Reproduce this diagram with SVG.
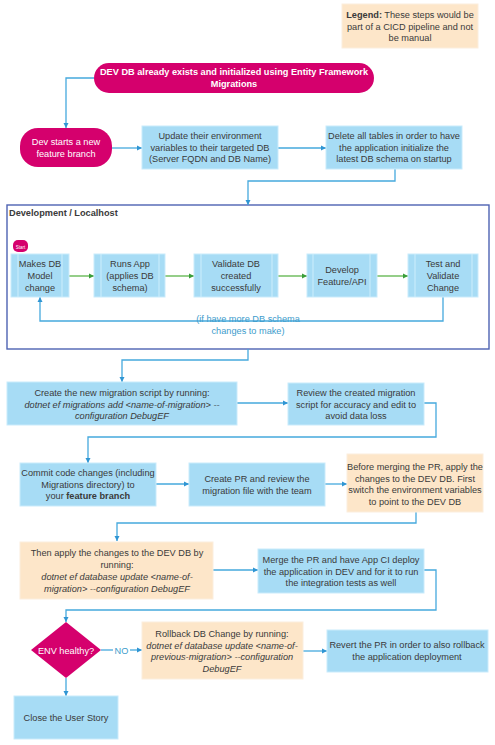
<svg xmlns="http://www.w3.org/2000/svg" width="495" height="745" viewBox="0 0 495 745">
<defs>
<style>
text{font-family:"Liberation Sans",Arial,sans-serif;font-size:9.2px;fill:#3a3a3a;text-anchor:middle}
.w{fill:#ffffff}
.b{font-weight:bold}
.i{font-style:italic}
.mag{fill:#d5006d}
.blue{fill:#a7dcf5;stroke:#c9ebfb;stroke-width:1}
.peach{fill:#fde6c9;stroke:#fbeedd;stroke-width:1}
.bar{stroke:#cdeefc;stroke-width:1;fill:none}
.c{fill:none;stroke:#45a9dd;stroke-width:1.3;marker-end:url(#ab)}
.cn{fill:none;stroke:#45a9dd;stroke-width:1.3}
.g{fill:none;stroke:#5bb34a;stroke-width:1.3;marker-end:url(#ag)}
.lbl{fill:#3d9ccc}
</style>
<marker id="ab" markerWidth="6" markerHeight="6" refX="5" refY="3" orient="auto" markerUnits="userSpaceOnUse"><path d="M0,0.5 L5,3 L0,5.5 Z" fill="#2f95d3"/></marker>
<marker id="ag" markerWidth="6" markerHeight="6" refX="5" refY="3" orient="auto" markerUnits="userSpaceOnUse"><path d="M0,0.5 L5,3 L0,5.5 Z" fill="#3a9e3a"/></marker>
</defs>
<rect width="495" height="745" fill="#ffffff"/>

<g id="legend">
<rect x="342" y="4" width="136" height="44" class="peach"/>
<text x="410" y="18"><tspan class="b">Legend:</tspan> These steps would be</text>
<text x="410" y="29.5">part of a CICD pipeline and not</text>
<text x="410" y="41">be manual</text>
</g>

<g id="container">
<rect x="7" y="205" width="482" height="144" fill="none" stroke="#4e63b3" stroke-width="1.4"/>
<text x="9" y="216" class="b" style="text-anchor:start">Development / Localhost</text>
</g>

<g id="connectors">
<path class="c" d="M94,78 H66 V128"/>
<path class="c" d="M112,148 H142"/>
<path class="c" d="M278,148 H326"/>
<path class="c" d="M395,169 V181 H248 V205"/>
<path class="g" d="M69,276 H94"/>
<path class="g" d="M165,276 H194"/>
<path class="g" d="M278,276 H307"/>
<path class="g" d="M377,276 H408"/>
<path class="c" d="M443,297 V321 H40 V297"/>
<path class="c" d="M248,349 V360 H122 V382"/>
<path class="c" d="M237,403 H288"/>
<path class="c" d="M424,403 H436 V437 H88 V463"/>
<path class="c" d="M156,484 H189"/>
<path class="c" d="M325,484 H347"/>
<path class="c" d="M416,512 V523 H117 V541"/>
<path class="c" d="M213,570 H258"/>
<path class="c" d="M424,570 H436 V610 H66 V622"/>
<path class="cn" d="M101,650 H113"/>
<path class="c" d="M130,650 H142"/>
<text x="121.5" y="653.5" class="lbl">NO</text>
<path class="c" d="M303,651 H327"/>
<path class="c" d="M66,678 V696"/>
<text x="248" y="322" class="lbl">(if have more DB schema</text>
<text x="248" y="334" class="lbl">changes to make)</text>
</g>

<g id="n-devdb">
<rect x="94" y="63" width="280" height="30" rx="15" class="mag"/>
<text x="234" y="75" class="w b">DEV DB already exists and initialized using Entity Framework</text>
<text x="234" y="87" class="w b">Migrations</text>
</g>

<g id="n-devstarts">
<rect x="20" y="128" width="92" height="39" rx="18" class="mag"/>
<text x="66" y="145" class="w">Dev starts a new</text>
<text x="66" y="157" class="w">feature branch</text>
</g>

<g id="n-update">
<rect x="142" y="126" width="136" height="43" class="blue"/>
<text x="210" y="139">Update their environment</text>
<text x="210" y="151">variables to their targeted DB</text>
<text x="210" y="162">(Server FQDN and DB Name)</text>
</g>

<g id="n-delete">
<rect x="326" y="126" width="136" height="43" class="blue"/>
<text x="394" y="139">Delete all tables in order to have</text>
<text x="394" y="151">the application initialize the</text>
<text x="394" y="162">latest DB schema on startup</text>
</g>

<g id="n-start">
<rect x="13" y="240" width="15" height="12" rx="5" class="mag"/>
<text x="20.5" y="248.5" class="w" style="font-size:4.5px">Start</text>
</g>

<g id="n-makes">
<rect x="11" y="254" width="58" height="43" class="blue"/>
<path class="bar" d="M18,254 V297 M62,254 V297"/>
<text x="40" y="267">Makes DB</text>
<text x="40" y="279">Model</text>
<text x="40" y="291">change</text>
</g>

<g id="n-runs">
<rect x="94" y="254" width="71" height="43" class="blue"/>
<path class="bar" d="M101,254 V297 M159,254 V297"/>
<text x="130" y="267">Runs App</text>
<text x="130" y="279">(applies DB</text>
<text x="130" y="291">schema)</text>
</g>

<g id="n-validate">
<rect x="194" y="254" width="84" height="43" class="blue"/>
<path class="bar" d="M201,254 V297 M272,254 V297"/>
<text x="236" y="267">Validate DB</text>
<text x="236" y="279">created</text>
<text x="236" y="291">successfully</text>
</g>

<g id="n-develop">
<rect x="307" y="254" width="70" height="43" class="blue"/>
<path class="bar" d="M313,254 V297 M370,254 V297"/>
<text x="342" y="273">Develop</text>
<text x="342" y="285">Feature/API</text>
</g>

<g id="n-test">
<rect x="408" y="254" width="70" height="43" class="blue"/>
<path class="bar" d="M415,254 V297 M472,254 V297"/>
<text x="443" y="267">Test and</text>
<text x="443" y="279">Validate</text>
<text x="443" y="291">Change</text>
</g>

<g id="n-create">
<rect x="7" y="382" width="230" height="43" class="blue"/>
<text x="122" y="396">Create the new migration script by running:</text>
<text x="122" y="407.5" class="i">dotnet ef migrations add &lt;name-of-migration&gt; --</text>
<text x="122" y="419" class="i">configuration DebugEF</text>
</g>

<g id="n-review">
<rect x="288" y="383" width="136" height="42" class="blue"/>
<text x="356" y="396">Review the created migration</text>
<text x="356" y="407.5">script for accuracy and edit to</text>
<text x="356" y="419">avoid data loss</text>
</g>

<g id="n-commit">
<rect x="20" y="463" width="136" height="43" class="blue"/>
<text x="88" y="476">Commit code changes (including</text>
<text x="88" y="487.5">Migrations directory) to</text>
<text x="88" y="499">your <tspan class="b">feature branch</tspan></text>
</g>

<g id="n-pr">
<rect x="189" y="463" width="136" height="43" class="blue"/>
<text x="257" y="482">Create PR and review the</text>
<text x="257" y="493.5">migration file with the team</text>
</g>

<g id="n-before">
<rect x="347" y="454" width="136" height="58" class="peach"/>
<text x="415" y="470">Before merging the PR, apply the</text>
<text x="415" y="481.5">changes to the DEV DB. First</text>
<text x="415" y="493">switch the environment variables</text>
<text x="415" y="504.5">to point to the DEV DB</text>
</g>

<g id="n-apply">
<rect x="20" y="542" width="193" height="57" class="peach"/>
<text x="117" y="556">Then apply the changes to the DEV DB by</text>
<text x="117" y="568">running:</text>
<text x="117" y="580" class="i">dotnet ef database update &lt;name-of-</text>
<text x="117" y="592" class="i">migration&gt; --configuration DebugEF</text>
</g>

<g id="n-merge">
<rect x="258" y="549" width="166" height="44" class="blue"/>
<text x="341" y="563">Merge the PR and have App CI deploy</text>
<text x="341" y="574.5">the application in DEV and for it to run</text>
<text x="341" y="586">the integration tests as well</text>
</g>

<g id="n-env">
<polygon points="66,622 101,650 66,678 31,650" class="mag"/>
<text x="66" y="653.5" class="w">ENV healthy?</text>
</g>

<g id="n-rollback">
<rect x="142" y="622" width="161" height="57" class="peach"/>
<text x="222" y="637">Rollback DB Change by running:</text>
<text x="222" y="648.5" class="i">dotnet ef database update &lt;name-of-</text>
<text x="222" y="660" class="i">previous-migration&gt; --configuration</text>
<text x="222" y="671.5" class="i">DebugEF</text>
</g>

<g id="n-revert">
<rect x="327" y="630" width="161" height="42" class="blue"/>
<text x="407" y="648">Revert the PR in order to also rollback</text>
<text x="407" y="660">the application deployment</text>
</g>

<g id="n-close">
<rect x="14" y="696" width="104" height="43" class="blue"/>
<text x="66" y="721">Close the User Story</text>
</g>
</svg>
